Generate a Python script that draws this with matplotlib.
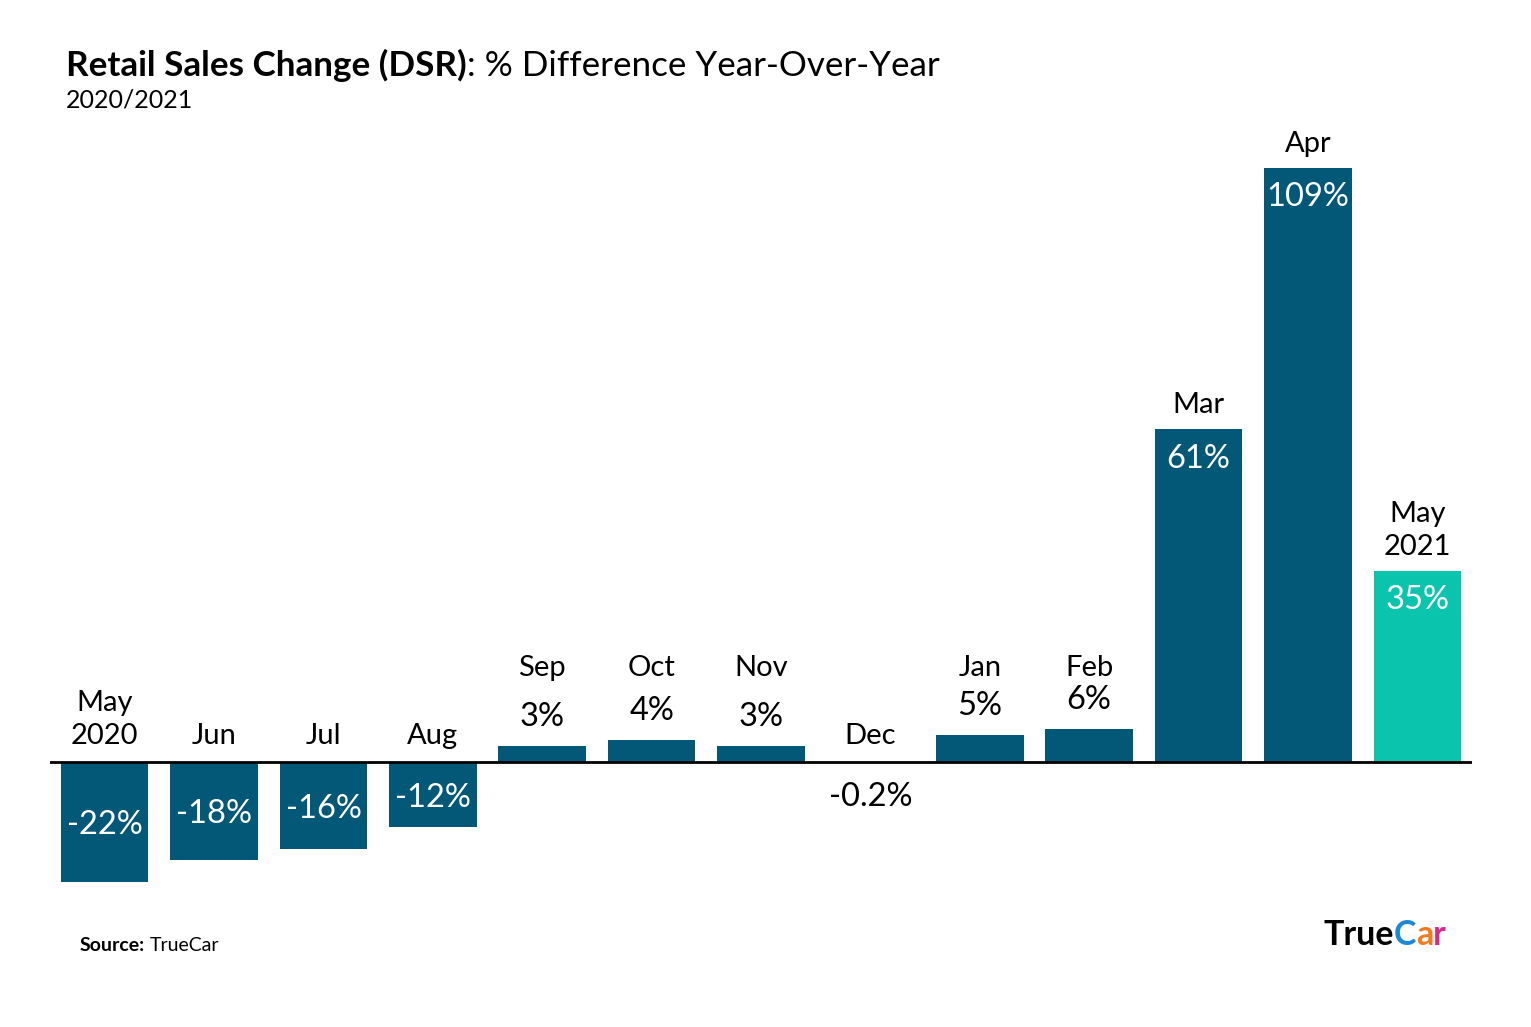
import matplotlib.pyplot as plt

plt.rcParams['font.family'] = ['Lato', 'DejaVu Sans']

months = ["May\n2020", "Jun", "Jul", "Aug", "Sep", "Oct", "Nov", "Dec",
          "Jan", "Feb", "Mar", "Apr", "May\n2021"]
values = [-22, -18, -16, -12, 3, 4, 3, -0.2, 5, 6, 61, 109, 35]
labels = ["-22%", "-18%", "-16%", "-12%", "3%", "4%", "3%", "-0.2%",
          "5%", "6%", "61%", "109%", "35%"]

dark = "#045877"
teal = "#0BC4AD"
colors = [dark] * 12 + [teal]

fig = plt.figure(figsize=(15.31, 10.27), dpi=100)
ax = fig.add_axes([50 / 1531, 0.1254, 1422 / 1531, 0.743])
x = list(range(len(values)))
ax.bar(x, values, width=0.8, color=colors, zorder=2)
ax.axhline(0, color="black", lw=2.0, zorder=3)
ax.set_xlim(-0.5, 12.5)
ax.set_ylim(-25, 115)
ax.axis("off")

mfs = 21
vfs = 23.5
for i, (m, v, lab) in enumerate(zip(months, values, labels)):
    if v < 0:
        ax.annotate(m, (i, 0), xytext=(0, 9), textcoords="offset points",
                    ha="center", va="bottom", fontsize=mfs, linespacing=1.35)
        if v > -1:
            ax.text(i, -6.4, lab, ha="center", va="center", fontsize=vfs)
        else:
            ax.text(i, v / 2 - 0.6, lab, ha="center", va="center",
                    fontsize=vfs, color="white")
    elif v < 20:
        ax.text(i, 17.2, m, ha="center", va="center", fontsize=mfs)
        ax.text(i, v + 5.3, lab, ha="center", va="center", fontsize=vfs)
    else:
        ax.annotate(m, (i, v), xytext=(0, 8), textcoords="offset points",
                    ha="center", va="bottom", fontsize=mfs, linespacing=1.35)
        ax.annotate(lab, (i, v), xytext=(0, -21), textcoords="offset points",
                    ha="center", va="center", fontsize=vfs, color="white")

# title: bold part followed by regular part
fig.canvas.draw()
r = fig.canvas.get_renderer()
t1 = fig.text(66 / 1531, 1 - 76 / 1027, "Retail Sales Change (DSR)",
              fontsize=25.2, fontweight="bold", va="baseline")
bb = t1.get_window_extent(renderer=r)
fig.text(bb.x1 / 1531, 1 - 76 / 1027, ": % Difference Year-Over-Year",
         fontsize=25.2, va="baseline")
fig.text(66 / 1531, 1 - 108 / 1027, "2020/2021", fontsize=18, va="baseline")

s1 = fig.text(80 / 1531, 1 - 951 / 1027, "Source:", fontsize=14,
              fontweight="bold", va="baseline")
bb = s1.get_window_extent(renderer=r)
fig.text((bb.x1 + 5) / 1531, 1 - 951 / 1027, "TrueCar", fontsize=14,
         va="baseline")

# logo text
lx = 1323 / 1531
ly = 1 - 945 / 1027
l1 = fig.text(lx, ly, "True", fontsize=24.5, fontweight="bold", va="baseline")
bb = l1.get_window_extent(renderer=r)
px = bb.x1
for ch, c in zip("Car", ["#1E88D8", "#F47A20", "#D8288A"]):
    t = fig.text(px / 1531, ly, ch, fontsize=24.5, fontweight="bold",
                 va="baseline", color=c)
    px = t.get_window_extent(renderer=r).x1

fig.savefig("out.png", dpi=100)
